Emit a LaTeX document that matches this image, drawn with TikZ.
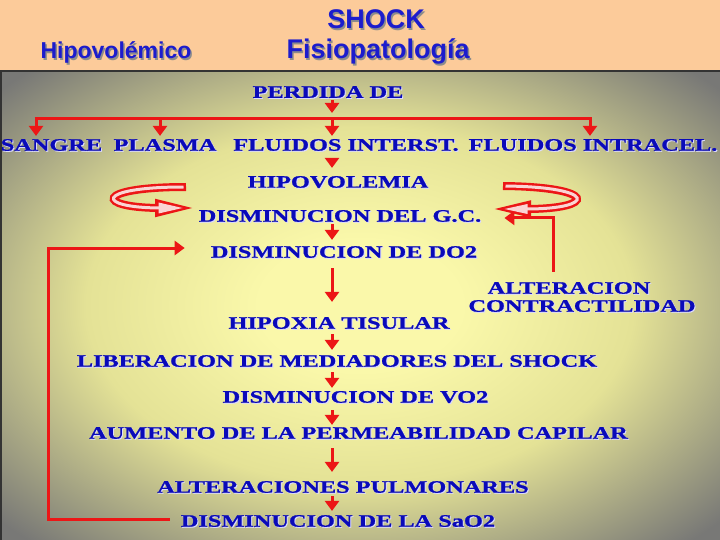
\documentclass[tikz,border=0pt]{standalone}
\usepackage{fontspec}
\usetikzlibrary{arrows.meta,calc}
\newfontfamily\stepfont{Liberation Serif}[FakeStretch=1.39,FakeBold=1]
\newfontfamily\titlefont{Liberation Sans}

\definecolor{peach}{RGB}{252,203,154}
\definecolor{stepblue}{RGB}{10,10,185}
\definecolor{titleblue}{RGB}{28,28,205}
\definecolor{glowyellow}{RGB}{250,248,170}
\definecolor{glowmid}{RGB}{228,226,150}
\definecolor{edgegray}{RGB}{120,120,118}
\definecolor{flowred}{RGB}{236,22,22}
\definecolor{loopfill}{RGB}{250,212,212}
\pgfdeclareradialshading{glow}{\pgfpoint{0bp}{0bp}}{color(0bp)=(glowyellow); color(7bp)=(glowyellow); color(19bp)=(glowmid); color(34bp)=(edgegray); color(50bp)=(edgegray)}

% text with a light shadow under it
\newcommand{\steplabel}[3]{%
  \node[step shadow] (#1-sh) at ($(#2)+(1,1)$) {#3};
  \node[step label] (#1) at (#2) {#3};}

\begin{document}
\begin{tikzpicture}[x=1pt,y=-1pt,
  step label/.style={font=\stepfont\bfseries\fontsize{17.5}{20}\selectfont, text=stepblue, inner sep=0pt},
  step shadow/.style={step label, text=white!85!blue},
  title/.style={font=\titlefont\bfseries\fontsize{27}{30}\selectfont, text=titleblue, inner sep=0pt, anchor=base},
  title shadow/.style={title, text=black!45},
  flow/.style={draw=flowred, line width=3pt, -{Triangle[width=14pt,length=10pt]}},
  bar/.style={draw=flowred, line width=3pt},
  gap/.style 2 args={shorten <=#1pt, shorten >=#2pt}]

\useasboundingbox (0,0) rectangle (720,540);
\fill[peach] (0,0) rectangle (720,71);
\shade[shading=glow] (0,71) rectangle (720,540);
\draw[black!80, line width=2pt] (721,71) -- (1,71) -- (1,541);

% titles
\node[title shadow, font=\titlefont\bfseries\fontsize{23}{26}\selectfont] (hipo-sh) at (117.5,60.5) {Hipovolémico};
\node[title, font=\titlefont\bfseries\fontsize{23}{26}\selectfont] (hipo) at (116,59) {Hipovolémico};
\node[title shadow] (shock-sh) at (377.5,30.5) {SHOCK};
\node[title] (shock) at (376,29) {SHOCK};
\node[title shadow] (fisio-sh) at (379.5,60.5) {Fisiopatología};
\node[title] (fisio) at (378,59) {Fisiopatología};

% steps
\steplabel{perdida}{328,92}{PERDIDA DE}
\steplabel{sangre}{51.5,145}{SANGRE}
\steplabel{plasma}{165,145}{PLASMA}
\steplabel{finterst}{346,145}{FLUIDOS INTERST.}
\steplabel{fintracel}{593,145}{FLUIDOS INTRACEL.}
\steplabel{hipovol}{338,182}{HIPOVOLEMIA}
\steplabel{gc}{340,216}{DISMINUCION DEL G.C.}
\steplabel{do2}{344,252}{DISMINUCION DE DO2}
\steplabel{alter}{569,288}{ALTERACION}
\steplabel{contr}{582,306}{CONTRACTILIDAD}
\steplabel{hipoxia}{339,323}{HIPOXIA TISULAR}
\steplabel{mediad}{337,361}{LIBERACION DE MEDIADORES DEL SHOCK}
\steplabel{vo2}{355.5,397}{DISMINUCION DE VO2}
\steplabel{permeab}{358.5,433}{AUMENTO DE LA PERMEABILIDAD CAPILAR}
\steplabel{pulmon}{343,487}{ALTERACIONES PULMONARES}
\steplabel{sao2}{338,521}{DISMINUCION DE LA SaO2}

\coordinate (axis) at (332,0);
\coordinate (busL) at (36,119);
\coordinate (busP) at (160,119);
\coordinate (busR) at (590,119);
\coordinate (loopx) at (48,0);
\coordinate (cx) at (553,0);

% losses
\draw[flow, gap={2}{6}] (perdida.south -| axis) -- (busL -| axis);
\draw[bar] ([xshift=-1.5pt]busL) -- ([xshift=1.5pt]busR);
\draw[flow, gap={0}{3}] (busL) -- (busL |- sangre.north);
\draw[flow, gap={0}{3}] (busP) -- (busP |- plasma.north);
\draw[flow, gap={0}{3}] (busL -| axis) -- (finterst.north -| axis);
\draw[flow, gap={0}{3}] (busR) -- (busR |- fintracel.north);

% main chain
\draw[flow, gap={7}{8}] (finterst.south -| axis) -- (hipovol.north -| axis);
\draw[flow, gap={2}{6}] (gc.south -| axis) -- (do2.north -| axis);
\draw[flow, gap={10}{15}] (do2.south -| axis) -- (hipoxia.north -| axis);
\draw[flow, gap={5}{5}] (hipoxia.south -| axis) -- (mediad.north -| axis);
\draw[flow, gap={5}{3}] (mediad.south -| axis) -- (vo2.north -| axis);
\draw[flow, gap={7}{2}] (vo2.south -| axis) -- (permeab.north -| axis);
\draw[flow, gap={9}{9}] (permeab.south -| axis) -- (pulmon.north -| axis);
\draw[flow, gap={3}{4}] (pulmon.south -| axis) -- (sao2.north -| axis);

% feedback
\draw[flow, gap={11}{26}] ([yshift=2pt]sao2.west) -- ([yshift=2pt]sao2.west -| loopx)
  -- ([yshift=4pt]do2.west -| loopx) -- ([yshift=4pt]do2.west);
\draw[flow, gap={10}{23}] (alter.north -| cx) -- ([yshift=-2pt]gc.east -| cx) -- ([yshift=-2pt]gc.east);

% turning arrows, red outline then light inside
\draw[flowred, line width=8pt] (186,187) .. controls (94,187) and (94,208) .. (162,208);
\draw[flowred, line width=8pt] (503,186) .. controls (598,187) and (597,209) .. (526,209);
\filldraw[flowred, line width=2pt, line join=miter] (188,208) -- (156,200) -- (156,216) -- cycle;
\filldraw[flowred, line width=2pt, line join=miter] (499,209) -- (530,201.5) -- (530,216.5) -- cycle;
\draw[loopfill, line width=3pt, shorten <=2.5pt] (186,187) .. controls (94,187) and (94,208) .. (162,208);
\draw[loopfill, line width=3pt, shorten <=2.5pt] (503,186) .. controls (598,187) and (597,209) .. (526,209);
\fill[loopfill] (182.5,208) -- (158.5,202.5) -- (158.5,213.5) -- cycle;
\fill[loopfill] (504.5,209) -- (527.5,204) -- (527.5,214) -- cycle;
\end{tikzpicture}
\end{document}
